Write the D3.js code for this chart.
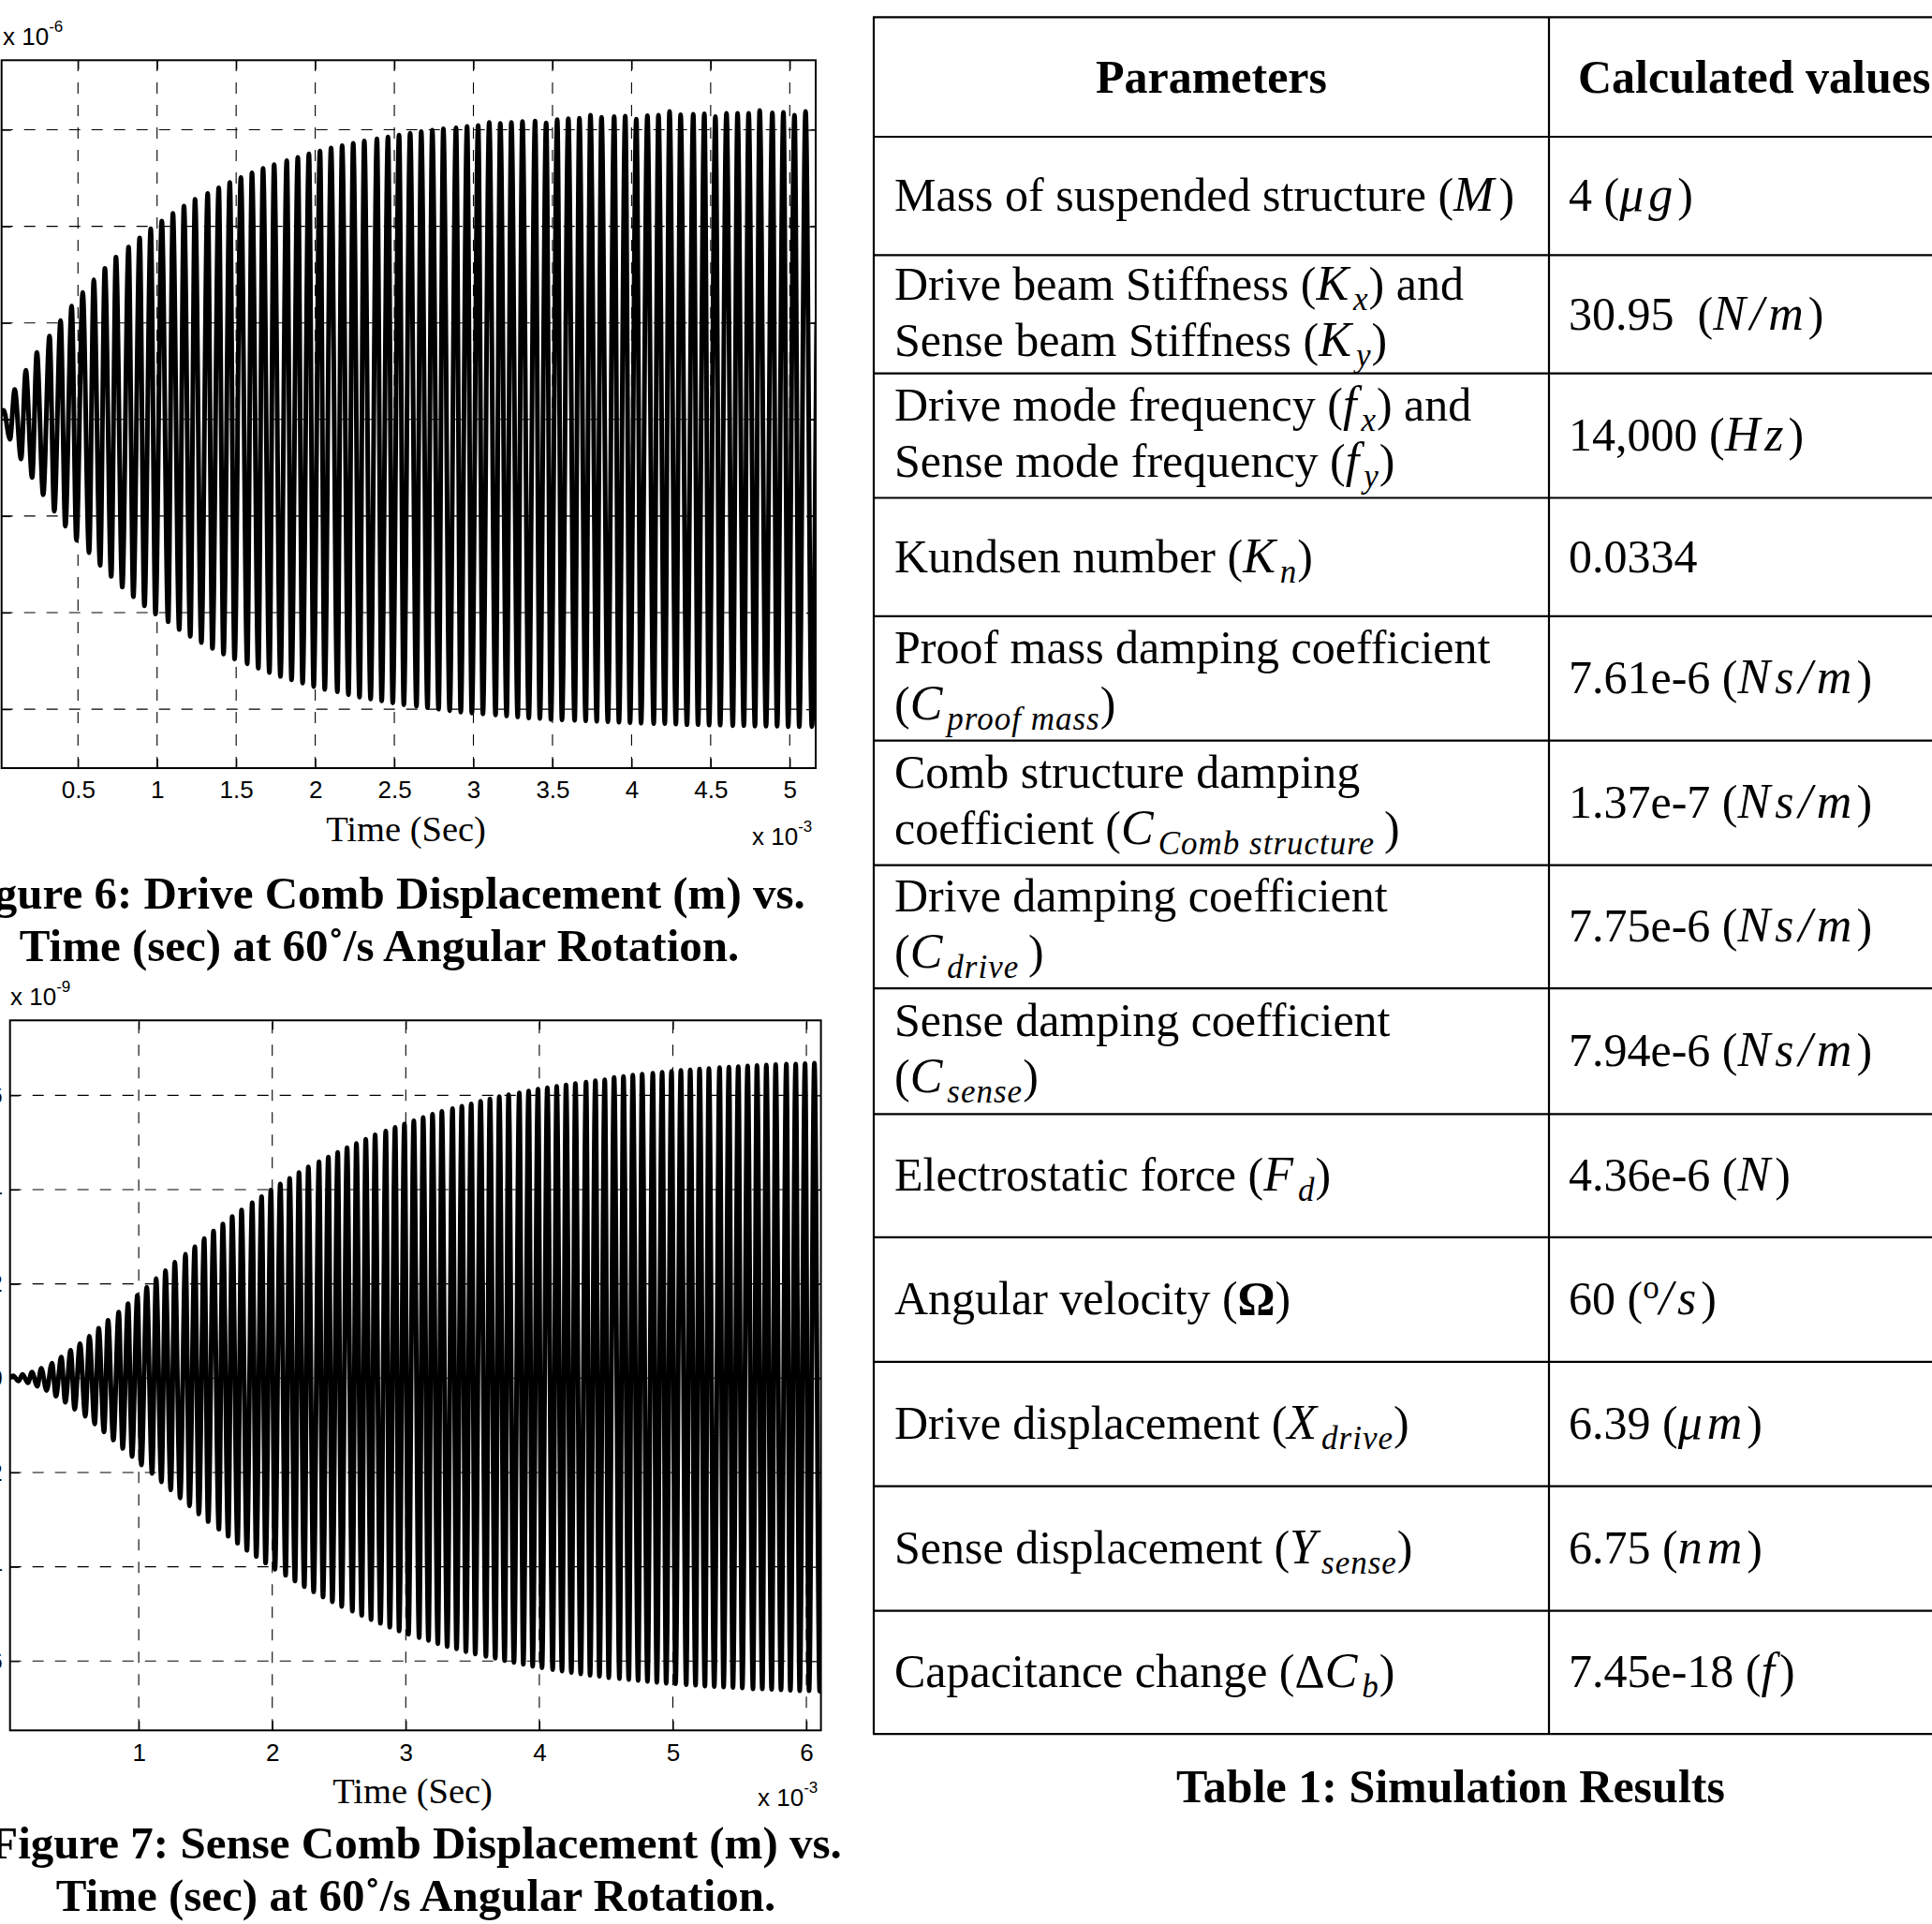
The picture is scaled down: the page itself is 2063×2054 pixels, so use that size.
<!DOCTYPE html>
<html><head><meta charset="utf-8">
<script src="https://cdn.jsdelivr.net/npm/d3@7"></script>
<style>html,body{margin:0;padding:0;background:#fff;} svg{display:block;}</style>
</head><body>
<script>
// ================= DATA =================
// Figure 6: drive comb displacement (x1e-6 m) — extrema, time in ms (x1e-3 s)
const driveTime = [0.00,
 0.03,0.07,0.10,0.14,0.17,0.21,0.24,0.28,0.32,0.35,0.39,0.42,0.46,0.49,
 0.53,0.57,0.60,0.64,0.67,0.71,0.74,0.78,0.82,0.85,0.89,0.92,0.96,0.99,
 1.03,1.07,1.10,1.14,1.17,1.21,1.24,1.28,1.32,1.35,1.39,1.42,1.46,1.49,
 1.53,1.57,1.60,1.64,1.67,1.71,1.74,1.78,1.82,1.85,1.89,1.92,1.96,1.99,
 2.03,2.06,2.10,2.14,2.17,2.21,2.24,2.28,2.31,2.35,2.39,2.42,2.46,2.49,
 2.53,2.56,2.60,2.64,2.67,2.71,2.74,2.78,2.81,2.85,2.89,2.92,2.96,2.99,
 3.03,3.06,3.10,3.14,3.17,3.21,3.24,3.28,3.31,3.35,3.39,3.42,3.46,3.49,
 3.53,3.56,3.60,3.64,3.67,3.71,3.74,3.78,3.81,3.85,3.89,3.92,3.96,3.99,
 4.03,4.06,4.10,4.14,4.17,4.21,4.24,4.28,4.31,4.35,4.39,4.42,4.46,4.49,
 4.53,4.56,4.60,4.64,4.67,4.71,4.74,4.78,4.81,4.85,4.89,4.92,4.96,4.99,
 5.03,5.06,5.10,5.14,
 5.17];
const driveDisp = [0,
 0.19,-0.41,0.62,-0.82,1.02,-1.20,1.39,-1.56,1.73,-1.90,2.05,-2.21,2.35,-2.50,
 2.63,-2.76,2.89,-3.02,3.13,-3.25,3.36,-3.47,3.57,-3.67,3.76,-3.86,3.95,-4.03,
 4.11,-4.19,4.27,-4.35,4.42,-4.49,4.56,-4.62,4.68,-4.74,4.80,-4.86,4.91,-4.96,
 5.01,-5.06,5.11,-5.15,5.20,-5.24,5.28,-5.32,5.36,-5.39,5.43,-5.46,5.50,-5.53,
 5.56,-5.59,5.62,-5.64,5.67,-5.70,5.72,-5.75,5.77,-5.79,5.81,-5.83,5.85,-5.87,
 5.89,-5.91,5.93,-5.94,5.96,-5.97,5.99,-6.00,6.02,-6.03,6.04,-6.06,6.07,-6.08,
 6.09,-6.10,6.15,-6.12,6.13,-6.14,6.15,-6.16,6.17,-6.18,6.18,-6.19,6.14,-6.21,
 6.21,-6.22,6.23,-6.23,6.24,-6.24,6.30,-6.25,6.26,-6.26,6.27,-6.27,6.28,-6.28,
 6.22,-6.29,6.29,-6.30,6.30,-6.30,6.38,-6.31,6.31,-6.32,6.32,-6.32,6.33,-6.33,
 6.27,-6.33,6.34,-6.34,6.34,-6.34,6.34,-6.35,6.40,-6.35,6.35,-6.35,6.36,-6.36,
 6.30,-6.36,6.38,-6.36,
 2.0];

// Figure 7: sense comb displacement (x1e-9 m) — extrema, time in ms
const senseTime = [0.03,
 0.06,0.10,0.13,0.17,0.20,0.24,0.27,0.31,0.35,0.38,0.42,0.45,0.49,0.52,
 0.56,0.60,0.63,0.67,0.70,0.74,0.77,0.81,0.85,0.88,0.92,0.95,0.99,1.02,
 1.06,1.10,1.13,1.17,1.20,1.24,1.27,1.31,1.35,1.38,1.42,1.45,1.49,1.52,
 1.56,1.60,1.63,1.67,1.70,1.74,1.77,1.81,1.85,1.88,1.92,1.95,1.99,2.02,
 2.06,2.10,2.13,2.17,2.20,2.24,2.27,2.31,2.35,2.38,2.42,2.45,2.49,2.52,
 2.56,2.60,2.63,2.67,2.70,2.74,2.77,2.81,2.85,2.88,2.92,2.95,2.99,3.02,
 3.06,3.10,3.13,3.17,3.20,3.24,3.27,3.31,3.35,3.38,3.42,3.45,3.49,3.52,
 3.56,3.60,3.63,3.67,3.70,3.74,3.77,3.81,3.85,3.88,3.92,3.95,3.99,4.02,
 4.06,4.10,4.13,4.17,4.20,4.24,4.27,4.31,4.35,4.38,4.42,4.45,4.49,4.52,
 4.56,4.60,4.63,4.67,4.70,4.74,4.77,4.81,4.85,4.88,4.92,4.95,4.99,5.02,
 5.06,5.10,5.13,5.17,5.20,5.24,5.27,5.31,5.35,5.38,5.42,5.45,5.49,5.52,
 5.56,5.60,5.63,5.67,5.70,5.74,5.77,5.81,5.85,5.88,5.92,5.95,5.99,6.02,
 6.06,6.10,
 6.13];
const senseDisp = [0,
 0.05,-0.06,0.08,-0.10,0.13,-0.17,0.21,-0.26,0.32,-0.38,0.45,-0.51,0.59,-0.66,
 0.73,-0.81,0.89,-0.97,1.06,-1.14,1.23,-1.31,1.40,-1.49,1.58,-1.66,1.76,-1.84,
 1.93,-2.02,2.11,-2.20,2.28,-2.37,2.46,-2.54,2.63,-2.71,2.79,-2.88,2.96,-3.04,
 3.12,-3.20,3.27,-3.35,3.43,-3.50,3.57,-3.65,3.72,-3.78,3.85,-3.92,3.99,-4.05,
 4.12,-4.18,4.24,-4.30,4.36,-4.42,4.48,-4.53,4.59,-4.64,4.69,-4.74,4.79,-4.84,
 4.89,-4.94,4.98,-5.03,5.07,-5.12,5.16,-5.20,5.24,-5.28,5.32,-5.36,5.39,-5.43,
 5.46,-5.50,5.53,-5.56,5.60,-5.63,5.66,-5.69,5.72,-5.74,5.77,-5.80,5.82,-5.85,
 5.87,-5.90,5.92,-5.94,5.97,-5.99,6.01,-6.03,6.05,-6.07,6.09,-6.11,6.13,-6.14,
 6.16,-6.18,6.19,-6.21,6.22,-6.24,6.25,-6.27,6.28,-6.30,6.31,-6.32,6.33,-6.35,
 6.38,-6.37,6.40,-6.39,6.43,-6.41,6.45,-6.43,6.47,-6.45,6.49,-6.47,6.51,-6.48,
 6.53,-6.50,6.54,-6.51,6.56,-6.53,6.57,-6.54,6.59,-6.55,6.60,-6.56,6.61,-6.57,
 6.62,-6.59,6.63,-6.59,6.64,-6.60,6.65,-6.61,6.66,-6.62,6.66,-6.63,6.67,-6.63,
 6.68,-6.64,
 0];

const driveXTicks = [0.5,1,1.5,2,2.5,3,3.5,4,4.5,5];
const driveXTickLabels = ["0.5","1","1.5","2","2.5","3","3.5","4","4.5","5"];
const senseXTicks = [1,2,3,4,5,6];
const senseXTickLabels = ["1","2","3","4","5","6"];
const yTicks = [-6,-4,-2,0,2,4,6];
const yTickLabels = ["-6","-4","-2","0","2","4","6"];

const driveCaption = ["Figure 6: Drive Comb Displacement (m) vs.", "Time (sec) at 60˚/s Angular Rotation."];
const senseCaption = ["Figure 7: Sense Comb Displacement (m) vs.", "Time (sec) at 60˚/s Angular Rotation."];

const tableHeader = ["Parameters", "Calculated values"];
const tableParams = [
 ["Mass of suspended structure ($M$)"],
 ["Drive beam Stiffness ($K_{x}$) and", "Sense beam Stiffness ($K_{y}$)"],
 ["Drive mode frequency ($f_{x}$) and", "Sense mode frequency ($f_{y}$)"],
 ["Kundsen number ($K_{n}$)"],
 ["Proof mass damping coefficient", "($C_{proof mass}$)"],
 ["Comb structure damping", "coefficient ($C_{Comb structure }$)"],
 ["Drive damping coefficient", "($C_{drive }$)"],
 ["Sense damping coefficient", "($C_{sense}$)"],
 ["Electrostatic force ($F_{d}$)"],
 ["Angular velocity ($Ω$)"],
 ["Drive displacement ($X_{drive}$)"],
 ["Sense displacement ($Y_{sense}$)"],
 ["Capacitance change ($ΔC_{b}$)"]
];
const tableValues = [
 "4 ($μg$)",
 "30.95  ($N/m$)",
 "14,000 ($Hz$)",
 "0.0334",
 "7.61e-6 ($Ns/m$)",
 "1.37e-7 ($Ns/m$)",
 "7.75e-6 ($Ns/m$)",
 "7.94e-6 ($Ns/m$)",
 "4.36e-6 ($N$)",
 "60 ($^{o}/s$)",
 "6.39 ($μm$)",
 "6.75 ($nm$)",
 "7.45e-18 ($f$)"
];
const tableCaption = "Table 1: Simulation Results";

// ================= LAYOUT =================
const W = 2063, H = 2054;
const SANS = "'Liberation Sans', Arial, Helvetica, sans-serif";
const SERIF = "'Liberation Serif', 'Times New Roman', Times, serif";

const svg = d3.select('body').append('svg')
  .attr('width', W).attr('height', H).attr('viewBox', `0 0 ${W} ${H}`)
  .style('background', '#fff');

const plots = [
  { id: 'p1', time: driveTime, disp: driveDisp, xTicks: driveXTicks, xLabels: driveXTickLabels,
    left: 1.7, right: 871, top: 64.3, bottom: 820, xDomain: [0.017, 5.164], yDomain: [-7.22, 7.44],
    yExp: "-6", yExpX: 3, yExpY: 48, xExpX: 803, xExpY: 902, xLabX: 433.5, xLabY: 898,
    caption: driveCaption, capX: 405, capY: [970, 1026] },
  { id: 'p2', time: senseTime, disp: senseDisp, xTicks: senseXTicks, xLabels: senseXTickLabels,
    left: 10.7, right: 876.6, top: 1089.3, bottom: 1847.3, xDomain: [0.036, 6.109], yDomain: [-7.47, 7.59],
    yExp: "-9", yExpX: 11, yExpY: 1073, xExpX: 809, xExpY: 1928, xLabX: 440.5, xLabY: 1925,
    caption: senseCaption, capX: 444, capY: [1984, 2040] }
];

function expLabel(g, x, y, exp) {
  const t = g.append('text').attr('x', x).attr('y', y)
    .attr('font-family', SANS).attr('font-size', 26).attr('fill', '#000');
  t.append('tspan').text('x 10');
  t.append('tspan').attr('dy', -14).attr('font-size', 17).text(exp);
}

plots.forEach(p => {
  const x = d3.scaleLinear().domain(p.xDomain).range([p.left, p.right]);
  const y = d3.scaleLinear().domain(p.yDomain).range([p.bottom, p.top]);
  const g = svg.append('g');

  svg.append('clipPath').attr('id', 'clip-' + p.id).append('rect')
    .attr('x', p.left).attr('y', p.top).attr('width', p.right - p.left).attr('height', p.bottom - p.top);

  // dashed grid
  g.append('g').selectAll('line').data(p.xTicks).join('line')
    .attr('x1', d => x(d)).attr('x2', d => x(d)).attr('y1', p.bottom).attr('y2', p.top)
    .attr('stroke', '#000').attr('stroke-width', 1.1).attr('stroke-dasharray', '12 12');
  g.append('g').selectAll('line').data(yTicks).join('line')
    .attr('x1', p.left).attr('x2', p.right).attr('y1', d => y(d)).attr('y2', d => y(d))
    .attr('stroke', '#000').attr('stroke-width', 1.1).attr('stroke-dasharray', '12 12');

  // signal
  const pts = d3.zip(p.time, p.disp);
  g.append('path').datum(pts)
    .attr('clip-path', `url(#clip-${p.id})`)
    .attr('d', d3.line().x(d => x(d[0])).y(d => y(d[1])).curve(d3.curveMonotoneX))
    .attr('fill', 'none').attr('stroke', '#000').attr('stroke-width', 5)
    .attr('stroke-linejoin', 'round').attr('stroke-linecap', 'round');

  // axes (inward ticks on all four sides)
  const styleAxis = a => {
    a.select('.domain').remove();
    a.selectAll('line').attr('stroke', '#000').attr('stroke-width', 1.3);
    a.selectAll('text').attr('font-family', SANS).attr('font-size', 26).attr('fill', '#000');
  };
  g.append('g').attr('transform', `translate(0,${p.bottom})`)
    .call(d3.axisBottom(x).tickValues(p.xTicks).tickFormat((d, i) => p.xLabels[i])
      .tickSizeInner(-10).tickSizeOuter(0).tickPadding(14)).call(styleAxis);
  g.append('g').attr('transform', `translate(0,${p.top})`)
    .call(d3.axisTop(x).tickValues(p.xTicks).tickFormat(() => '')
      .tickSizeInner(-10).tickSizeOuter(0)).call(styleAxis);
  g.append('g').attr('transform', `translate(${p.left},0)`)
    .call(d3.axisLeft(y).tickValues(yTicks).tickFormat((d, i) => yTickLabels[i])
      .tickSizeInner(-10).tickSizeOuter(0).tickPadding(8)).call(styleAxis);
  g.append('g').attr('transform', `translate(${p.right},0)`)
    .call(d3.axisRight(y).tickValues(yTicks).tickFormat(() => '')
      .tickSizeInner(-10).tickSizeOuter(0)).call(styleAxis);

  // box
  g.append('rect').attr('x', p.left).attr('y', p.top)
    .attr('width', p.right - p.left).attr('height', p.bottom - p.top)
    .attr('fill', 'none').attr('stroke', '#000').attr('stroke-width', 2);

  // exponent labels
  expLabel(g, p.yExpX, p.yExpY, p.yExp);
  expLabel(g, p.xExpX, p.xExpY, "-3");

  // axis title
  g.append('text').attr('x', p.xLabX).attr('y', p.xLabY).attr('text-anchor', 'middle')
    .attr('font-family', SERIF).attr('font-size', 38.5).attr('fill', '#000').text('Time (Sec)');

  // caption
  p.caption.forEach((c, i) => {
    g.append('text').attr('x', p.capX).attr('y', p.capY[i]).attr('text-anchor', 'middle')
      .attr('font-family', SERIF).attr('font-weight', 'bold').attr('font-size', 49)
      .attr('fill', '#000').text(c);
  });
});

// ================= TABLE =================
const tbl = { left: 933, div: 1654, right: 2130, textX: 955, valX: 1675,
  lines: [18.4, 146.0, 272.3, 398.7, 531.5, 657.9, 790.7, 923.6, 1055.2, 1189.4, 1320.9, 1453.8, 1586.7, 1719.6, 1851.2] };
const FS = 50;
const tg = svg.append('g');

tg.selectAll('line.h').data(tbl.lines).join('line').attr('class', 'h')
  .attr('x1', tbl.left - 1).attr('x2', tbl.right).attr('y1', d => d).attr('y2', d => d)
  .attr('stroke', '#000').attr('stroke-width', 2.2);
tg.selectAll('line.v').data([tbl.left, tbl.div, tbl.right]).join('line').attr('class', 'v')
  .attr('x1', d => d).attr('x2', d => d).attr('y1', tbl.lines[0]).attr('y2', tbl.lines[tbl.lines.length - 1])
  .attr('stroke', '#000').attr('stroke-width', 2.2);

function parseRich(str) {
  const out = []; let math = false; let buf = ''; let i = 0;
  const flush = () => { if (buf) out.push({ t: buf, s: math ? 'i' : 'n' }); buf = ''; };
  while (i < str.length) {
    const c = str[i];
    if (c === '$') { flush(); math = !math; i++; continue; }
    if (math && (c === '_' || c === '^') && str[i + 1] === '{') {
      flush(); const j = str.indexOf('}', i);
      out.push({ t: str.slice(i + 2, j), s: c === '_' ? 'sub' : 'sup' }); i = j + 1; continue;
    }
    if (math && (c === 'Ω' || c === 'Δ')) { flush(); out.push({ t: c, s: c === 'Ω' ? 'b' : 'n' }); i++; continue; }
    buf += c; i++;
  }
  flush();
  return out;
}
function richText(x, y, str) {
  const t = tg.append('text').attr('x', x).attr('y', y)
    .attr('font-family', SERIF).attr('font-size', FS).attr('fill', '#000')
    .style('white-space', 'pre');
  let shift = 0;
  const segs = parseRich(str);
  segs.forEach((s, k) => {
    const ts = t.append('tspan').text(s.t);
    const target = s.s === 'sub' ? 11 : (s.s === 'sup' ? -17 : 0);
    if (target !== shift) ts.attr('dy', target - shift);
    shift = target;
    if (s.s === 'i') {
      // math-italic glyphs in the original are wider than Times italic
      ts.attr('font-style', 'italic').attr('font-size', 52).attr('letter-spacing', 5);
    }
    if (s.s === 'sub') ts.attr('font-style', 'italic').attr('letter-spacing', 1);
    if (s.s === 'sub' || s.s === 'sup') ts.attr('font-size', FS * 0.7);
    if (s.s === 'b') ts.attr('font-weight', 'bold');
  });
  return t;
}

// header
tg.append('text').attr('x', (tbl.left + tbl.div) / 2).attr('y', 99).attr('text-anchor', 'middle')
  .attr('font-family', SERIF).attr('font-weight', 'bold').attr('font-size', FS).attr('fill', '#000').text(tableHeader[0]);
tg.append('text').attr('x', 1685).attr('y', 99)
  .attr('font-family', SERIF).attr('font-weight', 'bold').attr('font-size', FS).attr('fill', '#000').text(tableHeader[1]);

tableParams.forEach((lines, r) => {
  const top = tbl.lines[r + 1], bot = tbl.lines[r + 2];
  const c = (top + bot) / 2;
  if (lines.length === 1) richText(tbl.textX, c + 16, lines[0]);
  else { richText(tbl.textX, c - 16, lines[0]); richText(tbl.textX, c + 44, lines[1]); }
  richText(tbl.valX, c + 16, tableValues[r]);
});

tg.append('text').attr('x', 1549).attr('y', 1924).attr('text-anchor', 'middle')
  .attr('font-family', SERIF).attr('font-weight', 'bold').attr('font-size', FS).attr('fill', '#000').text(tableCaption);
</script>
</body></html>
